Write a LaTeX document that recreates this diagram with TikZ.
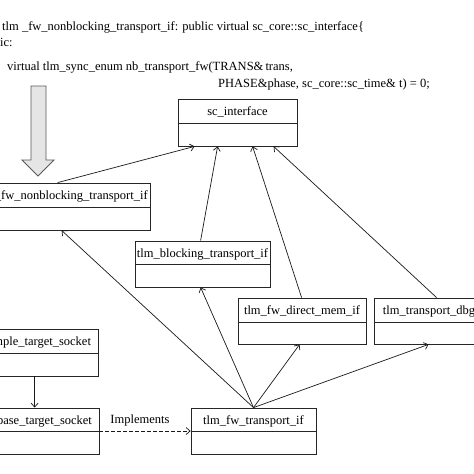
\documentclass[tikz,border=0pt]{standalone}
\usepackage{fontspec}
\setmainfont{Liberation Serif}
\usetikzlibrary{arrows.meta,calc}
\begin{document}
\begin{tikzpicture}[x=1pt,y=-1pt,
  every node/.style={font=\fontsize{12.5}{14}\selectfont, inner sep=0pt, text=black},
  umlbox/.style={draw=black!85, line width=0.8pt, rectangle, inner sep=0pt, fill=white},
  divline/.style={draw=black!85, line width=0.8pt},
  lbl/.style={anchor=base},
  codeline/.style={anchor=base west},
  assoc/.style={draw=black!90, line width=0.7pt, -{Straight Barb[length=4pt,width=7pt]}},
  impl/.style={assoc, dashed, dash pattern=on 3.5pt off 2.5pt},
  bigarrow/.style={draw=black!65, line width=0.8pt, fill=black!10}]
\useasboundingbox (0,0) rectangle (474,474);
\clip (0,0) rectangle (474,474);
\fill[white] (0,0) rectangle (474,474);

% code text
\node[codeline] (c1) at (2,30) {tlm \_fw\_nonblocking\_transport\_if: public virtual sc\_core::sc\_interface\{};
\node[codeline] (c2) at (0,46) {ic:};
\node[codeline] (c3) at (7,70) {virtual tlm\_sync\_enum nb\_transport\_fw(TRANS\&\,trans,};
\node[codeline] (c4) at (218,87) {PHASE\&phase, sc\_core::sc\_time\& t) = 0;};

% big hollow arrow
\draw[bigarrow] (31,86) -- (46,86) -- (46,160) -- (54,160) -- (38,176) -- (22,160) -- (31,160) -- cycle;

% boxes
\node[umlbox, minimum width=119pt, minimum height=47pt] (sci) at (237.5,122.5) {};
\draw[divline] (sci.west |- 0,123) -- (sci.east |- 0,123);
\node[lbl] at (237.5,115) {sc\_interface};

\node[umlbox, minimum width=174pt, minimum height=47pt] (fnb) at (63,206.5) {};
\draw[divline] (fnb.west |- 0,207) -- (fnb.east |- 0,207);
\node[lbl] at (63,199) {tlm\_fw\_nonblocking\_transport\_if};

\node[umlbox, minimum width=135pt, minimum height=46pt] (blk) at (202.5,264) {};
\draw[divline] (blk.west |- 0,264) -- (blk.east |- 0,264);
\node[lbl] at (202.5,257) {tlm\_blocking\_transport\_if};

\node[umlbox, minimum width=128pt, minimum height=46pt] (dmi) at (302,321) {};
\draw[divline] (dmi.west |- 0,322) -- (dmi.east |- 0,322);
\node[lbl] at (302,314) {tlm\_fw\_direct\_mem\_if};

\node[umlbox, minimum width=124pt, minimum height=46pt] (dbg) at (436,321) {};
\draw[divline] (dbg.west |- 0,322) -- (dbg.east |- 0,322);
\node[lbl] at (436,314) {tlm\_transport\_dbg\_if};

\node[umlbox, minimum width=125pt, minimum height=46pt] (ftr) at (253.5,431) {};
\draw[divline] (ftr.west |- 0,431) -- (ftr.east |- 0,431);
\node[lbl] at (253.5,424) {tlm\_fw\_transport\_if};

\node[umlbox, minimum width=120pt, minimum height=47pt] (sts) at (38,352.5) {};
\draw[divline] (sts.west |- 0,353) -- (sts.east |- 0,353);
\node[lbl] at (38,345) {simple\_target\_socket};

\node[umlbox, minimum width=109pt, minimum height=46pt] (bts) at (44.5,431) {};
\draw[divline] (bts.west |- 0,431) -- (bts.east |- 0,431);
\node[lbl] at (44.5,424) {base\_target\_socket};

% connectors to sc_interface
\draw[assoc] ($(fnb.north west)+(82,0)$) -- ($(sci.south west)+(17,0)$);
\draw[assoc] ($(blk.north west)+(66,0)$) -- ($(sci.south west)+(40,0)$);
\draw[assoc] ($(dmi.north west)+(64,0)$) -- ($(sci.south west)+(75,0)$);
\draw[assoc] ($(dbg.north west)+(63,0)$) -- ($(sci.south west)+(96,0)$);

% connectors from tlm_fw_transport_if
\draw[assoc] (ftr.north) -- ($(fnb.south west)+(86,0)$);
\draw[assoc] (ftr.north) -- ($(blk.south west)+(66,0)$);
\draw[assoc] (ftr.north) -- ($(dmi.south west)+(62,0)$);
\draw[assoc] (ftr.north) -- ($(dbg.south west)+(55,0)$);

% sockets
\draw[assoc] ($(sts.south west)+(57,0)$) -- ($(bts.north west)+(45,0)$);
\draw[impl] (bts.east |- 0,431) -- node[lbl, pos=0.5, yshift=8pt, xshift=-5pt] (implabel) {Implements} (ftr.west |- 0,431);
\end{tikzpicture}
\end{document}
